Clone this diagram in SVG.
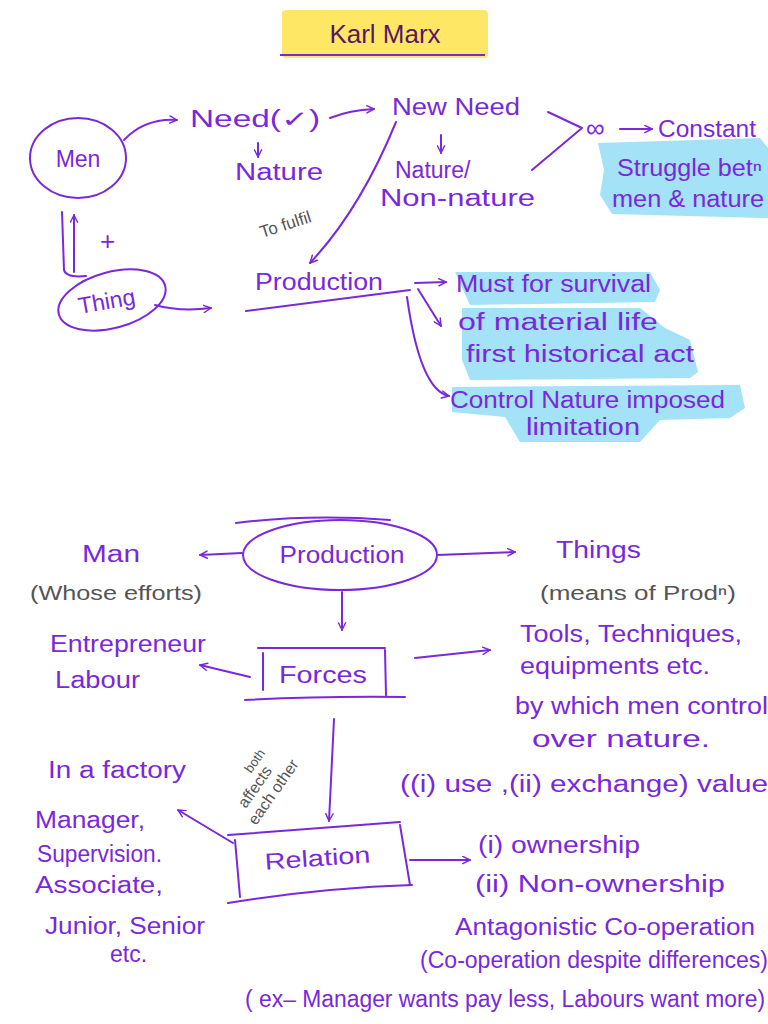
<svg xmlns="http://www.w3.org/2000/svg" width="768" height="1024" viewBox="0 0 768 1024">
<defs>
<marker id="ah" viewBox="0 0 10 10" refX="9" refY="5" markerWidth="9" markerHeight="9" markerUnits="userSpaceOnUse" orient="auto">
<path d="M1,1 L9,5 L1,9" fill="none" stroke="#7a28dc" stroke-width="1.6" stroke-linecap="round" stroke-linejoin="round"/>
</marker>
<style>
.p{fill:#7a28dc;font-family:"Liberation Sans","DejaVu Sans",sans-serif;font-size:23px}
.g{fill:#555;font-family:"Liberation Sans","DejaVu Sans",sans-serif;font-size:20px}
.l{fill:none;stroke:#7a28dc;stroke-width:2;stroke-linecap:round;stroke-linejoin:round}
.a{marker-end:url(#ah)}
.hy{fill:#ffe455;opacity:0.9}
.hb{fill:#a3e2f7}
</style>
</defs>
<rect width="768" height="1024" fill="#fff"/>

<!-- highlights -->
<g id="highlights">
<rect class="hy" x="282" y="10" width="206" height="48" rx="4"/>
<path class="hb" d="M598,143 L760,138 L768,148 L768,218 L612,214 L600,195 L604,170 Z"/>
<path class="hb" d="M455,272 L650,272 L660,290 L655,302 L470,305 Z"/>
<path class="hb" d="M462,308 L640,308 L665,328 L690,340 L698,372 L690,378 L470,380 L462,360 Z"/>
<path class="hb" d="M452,387 L740,385 L745,408 L730,418 L660,420 L640,442 L520,442 L505,417 L452,412 Z"/>
</g>

<!-- title -->
<g id="title">
<text x="385" y="43" text-anchor="middle" style="fill:#5a1766;font-family:'Liberation Sans',sans-serif;font-size:26px">Karl Marx</text>
<path d="M280,55 L485,55" style="fill:none;stroke:#7a28dc;stroke-width:2"/>
</g>

<g id="connectors">
<path class="l a" d="M124,140 Q145,118 177,120"/>
<path class="l a" d="M330,118 Q350,110 374,109"/>
<path class="l a" d="M258,143 L258,157"/>
<path class="l a" d="M441,135 L441,153"/>
<path class="l" d="M548,112 L582,128 L532,170"/>
<path class="l a" d="M620,129 L652,129"/>
<path class="l a" d="M396,122 Q360,210 310,263"/>
<path class="l a" d="M74,272 L74,215"/>
<path class="l" d="M62,212 L64,270 Q66,278 86,276"/>
<path class="l a" d="M155,305 Q180,312 211,308"/>
<path class="l" d="M246,311 Q330,300 410,290"/>
<path class="l a" d="M415,283 L446,282"/>
<path class="l a" d="M418,289 L441,326"/>
<path class="l a" d="M407,297 Q420,390 449,396"/>

<path class="l" d="M236,523 Q310,514 390,520"/>
<path class="l a" d="M242,553 L200,555"/>
<path class="l a" d="M437,555 L515,552"/>
<path class="l a" d="M342,592 L342,630"/>
<path class="l a" d="M250,677 L200,665"/>
<path class="l a" d="M415,658 L490,650"/>
<path class="l a" d="M334,719 L329,821"/>
<path class="l a" d="M233,843 L178,810"/>
<path class="l a" d="M410,860 L470,860"/>
</g>

<!-- top part -->
<g id="men"><ellipse class="l" cx="78" cy="158" rx="48" ry="40"/><text class="p" x="78" y="167" text-anchor="middle">Men</text></g>
<g id="need"><text class="p" x="190" y="127" textLength="130" lengthAdjust="spacingAndGlyphs">Need(✓)</text></g>
<g id="nature1"><text class="p" x="235" y="180" textLength="88" lengthAdjust="spacingAndGlyphs">Nature</text></g>
<g id="newneed"><text class="p" x="392" y="115" textLength="128" lengthAdjust="spacingAndGlyphs">New Need</text></g>
<g id="nature2"><text class="p" x="395" y="178">Nature/</text><text class="p" x="380" y="206" textLength="155" lengthAdjust="spacingAndGlyphs">Non-nature</text></g>
<g id="constant">
<text class="p" x="586" y="137" style="font-size:26px">∞</text>
<text class="p" x="658" y="137" textLength="98" lengthAdjust="spacingAndGlyphs">Constant</text>
<text class="p" x="617" y="176" textLength="145" lengthAdjust="spacingAndGlyphs">Struggle betⁿ</text>
<text class="p" x="612" y="207" textLength="152" lengthAdjust="spacingAndGlyphs">men &amp; nature</text>
</g>
<g id="tofulfil"><text class="g" x="262" y="238" transform="rotate(-18 262 238)" style="font-size:17px">To fulfil</text></g>
<g id="plus"><text class="p" x="100" y="250" style="font-size:26px">+</text></g>
<g id="thing"><ellipse class="l" cx="112" cy="300" rx="55" ry="28" transform="rotate(-15 112 300)"/><text class="p" x="108" y="309" text-anchor="middle" transform="rotate(-10 108 309)">Thing</text></g>
<g id="production1"><text class="p" x="255" y="290" textLength="128" lengthAdjust="spacingAndGlyphs">Production</text></g>
<g id="results">
<text class="p" x="456" y="292" textLength="195" lengthAdjust="spacingAndGlyphs">Must for survival</text>
<text class="p" x="458" y="330" textLength="200" lengthAdjust="spacingAndGlyphs">of material life</text>
<text class="p" x="466" y="362" textLength="228" lengthAdjust="spacingAndGlyphs">first historical act</text>
<text class="p" x="450" y="408" textLength="275" lengthAdjust="spacingAndGlyphs">Control Nature imposed</text>
<text class="p" x="526" y="435" textLength="114" lengthAdjust="spacingAndGlyphs">limitation</text>
</g>

<!-- bottom part -->
<g id="production2"><ellipse class="l" cx="340" cy="555" rx="97" ry="35"/><text class="p" x="342" y="563" text-anchor="middle" textLength="125" lengthAdjust="spacingAndGlyphs">Production</text></g>
<g id="man"><text class="p" x="82" y="562" textLength="58" lengthAdjust="spacingAndGlyphs">Man</text><text class="g" x="30" y="600" textLength="172" lengthAdjust="spacingAndGlyphs">(Whose efforts)</text></g>
<g id="things"><text class="p" x="556" y="558" textLength="85" lengthAdjust="spacingAndGlyphs">Things</text><text class="g" x="540" y="600" textLength="196" lengthAdjust="spacingAndGlyphs">(means of Prodⁿ)</text></g>
<g id="forces">
<path class="l" d="M258,648 L385,648 M263,653 L263,690 M385,650 L386,695 M245,700 Q320,696 405,697"/>
<text class="p" x="323" y="683" text-anchor="middle" textLength="88" lengthAdjust="spacingAndGlyphs">Forces</text>
</g>
<g id="entrepreneur"><text class="p" x="50" y="652" textLength="156" lengthAdjust="spacingAndGlyphs">Entrepreneur</text><text class="p" x="55" y="688" textLength="85" lengthAdjust="spacingAndGlyphs">Labour</text></g>
<g id="tools">
<text class="p" x="520" y="642" textLength="222" lengthAdjust="spacingAndGlyphs">Tools, Techniques,</text>
<text class="p" x="520" y="674" textLength="190" lengthAdjust="spacingAndGlyphs">equipments etc.</text>
<text class="p" x="515" y="714" textLength="253" lengthAdjust="spacingAndGlyphs">by which men control</text>
<text class="p" x="532" y="747" textLength="178" lengthAdjust="spacingAndGlyphs">over nature.</text>
</g>
<g id="both" transform="translate(256,826) rotate(-55)">
<text class="g" x="0" y="0" style="font-size:16px">each other</text>
<text class="g" x="8" y="-18" style="font-size:16px">affects</text>
<text class="g" x="40" y="-34" style="font-size:13px">both</text>
</g>
<g id="value"><text class="p" x="400" y="792" textLength="368" lengthAdjust="spacingAndGlyphs">((i) use ,(ii) exchange) value</text></g>
<g id="factory">
<text class="p" x="48" y="778" textLength="138" lengthAdjust="spacingAndGlyphs">In a factory</text>
<text class="p" x="35" y="828" textLength="110" lengthAdjust="spacingAndGlyphs">Manager,</text>
<text class="p" x="37" y="862" textLength="125" lengthAdjust="spacingAndGlyphs">Supervision.</text>
<text class="p" x="35" y="893" textLength="128" lengthAdjust="spacingAndGlyphs">Associate,</text>
<text class="p" x="45" y="934" textLength="160" lengthAdjust="spacingAndGlyphs">Junior, Senior</text>
<text class="p" x="110" y="962">etc.</text>
</g>
<g id="relation">
<path class="l" d="M228,835 L400,822 M235,840 L240,897 M400,825 L410,885 M228,903 Q320,888 412,885"/>
<text class="p" x="318" y="866" text-anchor="middle" textLength="106" lengthAdjust="spacingAndGlyphs" transform="rotate(-4 318 866)">Relation</text>
</g>
<g id="ownership">
<text class="p" x="478" y="853" textLength="162" lengthAdjust="spacingAndGlyphs">(i) ownership</text>
<text class="p" x="475" y="892" textLength="250" lengthAdjust="spacingAndGlyphs">(ii) Non-ownership</text>
</g>
<g id="antagonistic">
<text class="p" x="455" y="935" textLength="300" lengthAdjust="spacingAndGlyphs">Antagonistic Co-operation</text>
<text class="p" x="420" y="968" textLength="348" lengthAdjust="spacingAndGlyphs">(Co-operation despite differences)</text>
<text class="p" x="245" y="1007" textLength="520" lengthAdjust="spacingAndGlyphs">( ex– Manager wants pay less, Labours want more)</text>
</g>
</svg>
